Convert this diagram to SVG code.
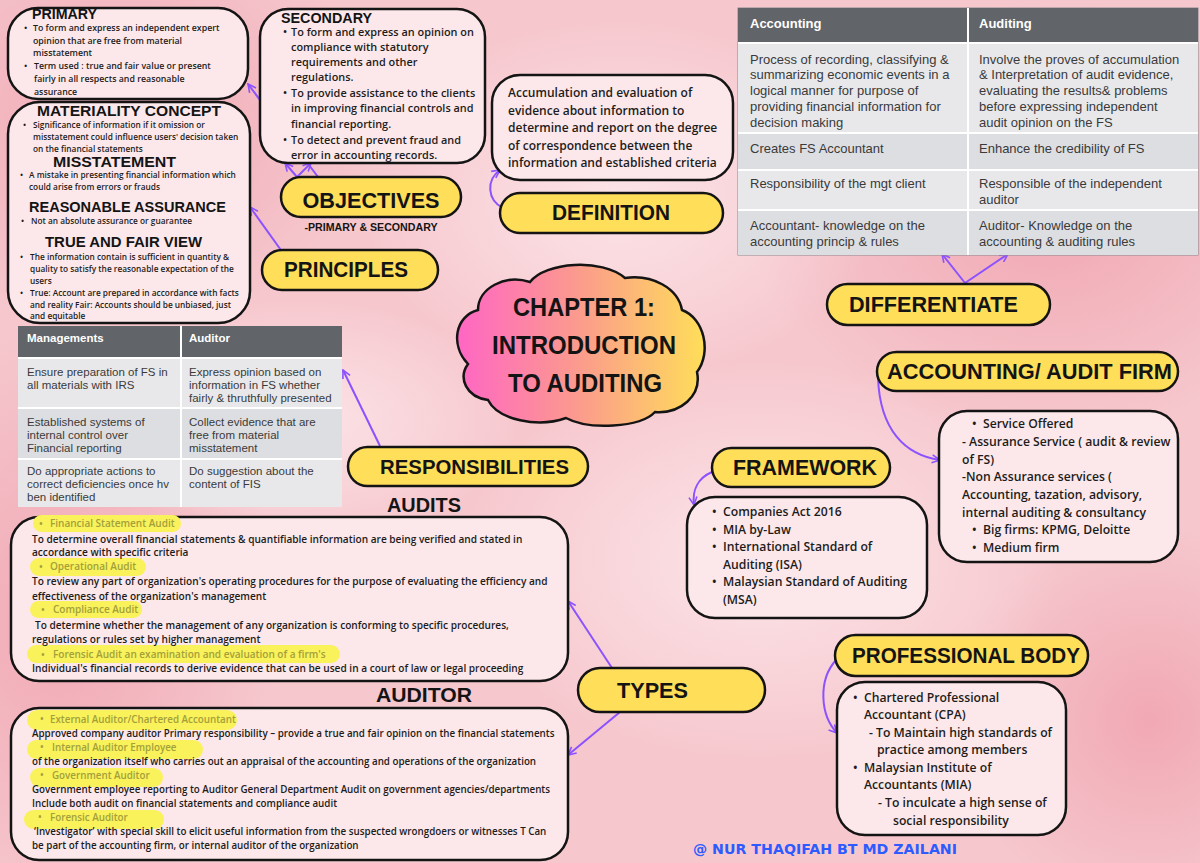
<svg xmlns="http://www.w3.org/2000/svg" width="1200" height="863" viewBox="0 0 1200 863">
<defs>
<style>
.box{fill:#fce8ea;stroke:#141414;stroke-width:2.5}
.pill{fill:#ffde59;stroke:#141414;stroke-width:2.5}
.h{font-family:"Liberation Sans",Arial,sans-serif;font-weight:bold;fill:#141414}
.b{font-family:"Open Sans","Liberation Sans",sans-serif;font-weight:600;fill:#1c1c1c}
.t{font-family:"Liberation Sans",Arial,sans-serif;fill:#3a3a3a}
.th{font-family:"Liberation Sans",Arial,sans-serif;font-weight:bold;fill:#ffffff}
.hl{fill:#f9f25a}
.hlt{fill:#a3a03a}
.con{fill:none;stroke:#8c52ff;stroke-width:2;marker-end:url(#ah)}
.pt{text-anchor:middle}
</style>
<marker id="ah" viewBox="0 0 10 10" refX="9" refY="5" markerWidth="5" markerHeight="5" orient="auto" markerUnits="strokeWidth">
<path d="M1,1 L9,5 L1,9" fill="none" stroke="#8c52ff" stroke-width="1.6"/>
</marker>
<linearGradient id="cloudg" x1="0" y1="0" x2="1" y2="0">
<stop offset="0" stop-color="#ff66c4"/>
<stop offset="0.5" stop-color="#fb9c8c"/>
<stop offset="1" stop-color="#ffde59"/>
</linearGradient>
<radialGradient id="bg1" cx="0.5" cy="0.5" r="0.5">
<stop offset="0" stop-color="#f0a3b0" stop-opacity="0.85"/>
<stop offset="1" stop-color="#f0a3b0" stop-opacity="0"/>
</radialGradient>
<radialGradient id="bg2" cx="0.5" cy="0.5" r="0.5">
<stop offset="0" stop-color="#fde9ec" stop-opacity="0.85"/>
<stop offset="1" stop-color="#fde9ec" stop-opacity="0"/>
</radialGradient>
</defs>

<g id="background">
<rect x="0" y="0" width="1200" height="863" fill="#f6c8ce"/>
<ellipse cx="120" cy="120" rx="260" ry="220" fill="url(#bg1)"/>
<ellipse cx="1050" cy="220" rx="300" ry="220" fill="url(#bg1)"/>
<ellipse cx="60" cy="620" rx="220" ry="300" fill="url(#bg1)"/>
<ellipse cx="1150" cy="720" rx="200" ry="200" fill="url(#bg1)"/>
<ellipse cx="620" cy="200" rx="260" ry="180" fill="url(#bg2)"/>
<ellipse cx="760" cy="560" rx="300" ry="200" fill="url(#bg2)"/>
<ellipse cx="300" cy="420" rx="220" ry="120" fill="url(#bg2)"/>
</g>

<g id="connectors">
<path class="con" d="M318,177 L248,84"/>
<path class="con" d="M283,253 L250,207"/>
<path class="con" d="M297,177 L285,163"/>
<path class="con" d="M297,177 L311,163"/>
<path class="con" d="M503,208 C487,200 486,180 500,170"/>
<path class="con" d="M965,283 L942,254"/>
<path class="con" d="M965,283 L1008,254"/>
<path class="con" d="M380,446 L343,370"/>
<path class="con" d="M878,378 C880,430 905,455 940,460"/>
<path class="con" d="M712,472 C698,478 692,490 694,505"/>
<path class="con" d="M836,660 C818,680 820,715 837,733"/>
<path class="con" d="M612,668 L568,601"/>
<path class="con" d="M620,712 L568,755"/>
</g>

<g id="primary">
<rect class="box" x="8" y="8" width="240" height="91" rx="30"/>
<text class="h" x="32" y="19" font-size="14" textLength="65" lengthAdjust="spacingAndGlyphs">PRIMARY</text>
<g class="b" font-size="8.8">
<text x="24" y="30.5">•</text>
<text x="33" y="30.5">To form and express an independent expert</text>
<text x="33" y="43.5">opinion that are free from material</text>
<text x="33" y="55.5">misstatement</text>
<text x="24" y="68.5">•</text>
<text x="34" y="68.5">Term used : true and fair value or present</text>
<text x="34" y="81.5">fairly in all respects and reasonable</text>
<text x="34" y="94.5">assurance</text>
</g>
</g>

<g id="principles-box">
<rect class="box" x="8" y="102" width="242" height="221" rx="32"/>
<text class="h" x="37" y="115.5" font-size="15" textLength="184" lengthAdjust="spacingAndGlyphs">MATERIALITY  CONCEPT</text>
<text class="h" x="53" y="167" font-size="15" textLength="123" lengthAdjust="spacingAndGlyphs">MISSTATEMENT</text>
<text class="h" x="29" y="212" font-size="15" textLength="197" lengthAdjust="spacingAndGlyphs">REASONABLE ASSURANCE</text>
<text class="h" x="45" y="247" font-size="15" textLength="157" lengthAdjust="spacingAndGlyphs">TRUE AND FAIR VIEW</text>
<g class="b" font-size="8.3">
<text x="23" y="128">•</text>
<text x="33" y="128">Significance of information  if it omission or</text>
<text x="33" y="140">misstatement could influence users' decision taken</text>
<text x="33" y="152">on  the financial statements</text>
<text x="20" y="178">•</text>
<text x="29" y="178">A mistake in presenting financial information which</text>
<text x="29" y="190">could arise from errors or frauds</text>
<text x="21" y="224">•</text>
<text x="31" y="224">Not an absolute assurance or guarantee</text>
<text x="20" y="260">•</text>
<text x="30" y="260">The information contain is sufficient in quantity &amp;</text>
<text x="30" y="272">quality to satisfy the reasonable expectation of the</text>
<text x="30" y="284">users</text>
<text x="20" y="296">•</text>
<text x="30" y="296">True: Account are prepared in accordance with facts</text>
<text x="30" y="308">and reality Fair: Accounts should be unbiased, just</text>
<text x="30" y="319">and equitable</text>
</g>
</g>

<g id="secondary">
<rect class="box" x="260" y="9" width="225" height="154" rx="28"/>
<text class="h" x="281" y="22.5" font-size="14" textLength="91" lengthAdjust="spacingAndGlyphs">SECONDARY</text>
<g class="b" font-size="10.9">
<text x="283" y="35.5">•</text>
<text x="291" y="35.5">To form and express an opinion on</text>
<text x="291" y="50.5">compliance with statutory</text>
<text x="291" y="66">requirements and other</text>
<text x="291" y="81">regulations.</text>
<text x="283" y="97">•</text>
<text x="291" y="97">To provide assistance to the clients</text>
<text x="291" y="112">in improving financial controls and</text>
<text x="291" y="128">financial reporting.</text>
<text x="283" y="144">•</text>
<text x="291" y="144">To detect and prevent fraud and</text>
<text x="291" y="159">error in accounting records.</text>
</g>
</g>

<g id="objectives">
<rect class="pill" x="281" y="177" width="180" height="40" rx="20"/>
<text class="h pt" x="371" y="208" font-size="22" textLength="137" lengthAdjust="spacingAndGlyphs">OBJECTIVES</text>
<text class="h pt" x="371" y="231" font-size="10" textLength="133" lengthAdjust="spacingAndGlyphs">-PRIMARY &amp; SECONDARY</text>
</g>

<g id="principles">
<rect class="pill" x="262" y="250" width="176" height="40" rx="20"/>
<text class="h pt" x="346" y="277" font-size="22" textLength="124" lengthAdjust="spacingAndGlyphs">PRINCIPLES</text>
</g>

<g id="definition-box">
<rect class="box" x="492" y="75" width="241" height="105" rx="28"/>
<g class="b" font-size="12">
<text x="508" y="97">Accumulation and evaluation of</text>
<text x="508" y="115">evidence about information to</text>
<text x="508" y="132">determine and report on the degree</text>
<text x="508" y="150">of correspondence between the</text>
<text x="508" y="167">information and established criteria</text>
</g>
</g>

<g id="definition">
<rect class="pill" x="500" y="193" width="223" height="40" rx="20"/>
<text class="h pt" x="611" y="220" font-size="22" textLength="118" lengthAdjust="spacingAndGlyphs">DEFINITION</text>
</g>

<g id="diff-table">
<rect x="738" y="8" width="460" height="247" fill="#e3e4e8" stroke="#8a8a8e" stroke-width="1"/>
<rect x="738" y="8" width="460" height="35" fill="#616469"/>
<rect x="738" y="43" width="460" height="90" fill="#e8e8eb"/>
<rect x="738" y="133" width="460" height="37" fill="#dddee2"/>
<rect x="738" y="170" width="460" height="40" fill="#e8e8eb"/>
<rect x="738" y="210" width="460" height="45" fill="#dddee2"/>
<g stroke="#ffffff" stroke-width="2">
<line x1="968" y1="8" x2="968" y2="255"/>
<line x1="738" y1="43" x2="1198" y2="43"/>
<line x1="738" y1="133" x2="1198" y2="133"/>
<line x1="738" y1="170" x2="1198" y2="170"/>
<line x1="738" y1="210" x2="1198" y2="210"/>
</g>
<text class="th" x="750" y="28" font-size="13">Accounting</text>
<text class="th" x="979" y="28" font-size="13">Auditing</text>
<g class="t" font-size="13">
<text x="750" y="63.5">Process of recording, classifying &amp;</text>
<text x="750" y="79">summarizing economic events in a</text>
<text x="750" y="95">logical manner for purpose of</text>
<text x="750" y="111">providing financial information for</text>
<text x="750" y="126.5">decision making</text>
<text x="979" y="63.5">Involve the proves of accumulation</text>
<text x="979" y="79">&amp; Interpretation of audit evidence,</text>
<text x="979" y="95">evaluating the results&amp; problems</text>
<text x="979" y="111">before expressing independent</text>
<text x="979" y="126.5">audit opinion on the FS</text>
<text x="750" y="152.5">Creates FS Accountant</text>
<text x="979" y="152.5">Enhance the credibility of FS</text>
<text x="750" y="187.5">Responsibility of the mgt client</text>
<text x="979" y="187.5">Responsible of the independent</text>
<text x="979" y="203.5">auditor</text>
<text x="750" y="229.5">Accountant- knowledge on the</text>
<text x="750" y="245.5">accounting princip &amp; rules</text>
<text x="979" y="229.5">Auditor- Knowledge on the</text>
<text x="979" y="245.5">accounting &amp; auditing rules</text>
</g>
</g>

<g id="differentiate">
<rect class="pill" x="827" y="284" width="223" height="41" rx="20.5"/>
<text class="h pt" x="933.5" y="312" font-size="22" textLength="169" lengthAdjust="spacingAndGlyphs">DIFFERENTIATE</text>
</g>

<g id="chapter">
<path d="M468,364 C450,345 455,316 478,310 C478,288 505,274 530,282 C545,262 602,258 625,278 C652,274 678,288 682,310 C704,318 712,352 697,372 C702,396 680,414 655,412 C640,428 588,430 566,418 C538,428 498,420 488,400 C466,397 458,378 468,364 Z" fill="url(#cloudg)" stroke="#141414" stroke-width="2.5"/>
<text class="h pt" x="584" y="316" font-size="26" textLength="142" lengthAdjust="spacingAndGlyphs">CHAPTER 1:</text>
<text class="h pt" x="584" y="354" font-size="26" textLength="184" lengthAdjust="spacingAndGlyphs">INTRODUCTION</text>
<text class="h pt" x="585" y="392" font-size="26" textLength="154" lengthAdjust="spacingAndGlyphs">TO AUDITING</text>
</g>

<g id="resp-table">
<rect x="18" y="326" width="324" height="181" fill="#e3e4e8"/>
<rect x="18" y="326" width="324" height="32" fill="#616469"/>
<rect x="18" y="358" width="324" height="50" fill="#e8e8eb"/>
<rect x="18" y="408" width="324" height="51" fill="#dddee2"/>
<rect x="18" y="459" width="324" height="48" fill="#e8e8eb"/>
<g stroke="#ffffff" stroke-width="2">
<line x1="181" y1="326" x2="181" y2="507"/>
<line x1="18" y1="358" x2="342" y2="358"/>
<line x1="18" y1="408" x2="342" y2="408"/>
<line x1="18" y1="459" x2="342" y2="459"/>
</g>
<text class="th" x="27" y="342" font-size="11.5">Managements</text>
<text class="th" x="189" y="342" font-size="11.5">Auditor</text>
<g class="t" font-size="11.5">
<text x="27" y="376">Ensure preparation of FS in</text>
<text x="27" y="389">all materials with IRS</text>
<text x="189" y="376">Express opinion based on</text>
<text x="189" y="389">information in FS whether</text>
<text x="189" y="402">fairly &amp; thruthfully presented</text>
<text x="27" y="426">Established systems of</text>
<text x="27" y="439">internal control over</text>
<text x="27" y="452">Financial reporting</text>
<text x="189" y="426">Collect evidence that are</text>
<text x="189" y="439">free from material</text>
<text x="189" y="452">misstatement</text>
<text x="27" y="475">Do appropriate actions to</text>
<text x="27" y="488">correct deficiencies once hv</text>
<text x="27" y="501">ben identified</text>
<text x="189" y="475">Do suggestion about the</text>
<text x="189" y="488">content of FIS</text>
</g>
</g>

<g id="responsibilities">
<rect class="pill" x="348" y="447" width="240" height="39" rx="19.5"/>
<text class="h pt" x="474.5" y="474" font-size="21" textLength="189" lengthAdjust="spacingAndGlyphs">RESPONSIBILITIES</text>
</g>

<g id="audits">
<text class="h pt" x="424" y="512" font-size="20" textLength="74" lengthAdjust="spacingAndGlyphs">AUDITS</text>
<rect class="box" x="11" y="517" width="557" height="164" rx="28"/>
<rect class="hl" x="33" y="515" width="148" height="17" rx="8.5"/>
<rect class="hl" x="30" y="558" width="116" height="18" rx="9"/>
<rect class="hl" x="30" y="601" width="112" height="17" rx="8.5"/>
<rect class="hl" x="27" y="645" width="313" height="18" rx="9"/>
<g class="b hlt" font-size="10">
<text x="39" y="526.5">•</text>
<text x="50" y="526.5">Financial Statement Audit</text>
<text x="39" y="570">•</text>
<text x="50" y="570">Operational Audit</text>
<text x="41" y="613">•</text>
<text x="53" y="613">Compliance Audit</text>
<text x="41" y="657.5">•</text>
<text x="53" y="657.5">Forensic Audit an examination and evaluation of a firm's</text>
</g>
<g class="b" font-size="10.1">
<text x="32" y="542.5">To determine overall financial statements &amp; quantifiable information are being verified and stated in</text>
<text x="32" y="556">accordance with specific criteria</text>
<text x="32" y="585">To review any part of organization's operating procedures for the purpose of evaluating the efficiency and</text>
<text x="32" y="599.5">effectiveness of the organization's management</text>
<text x="35" y="629">To determine whether the management of any organization is conforming to specific procedures,</text>
<text x="32" y="643">regulations or rules set by higher management</text>
<text x="32" y="672">Individual's financial records to derive evidence that can be used in a court of law or legal proceeding</text>
</g>
</g>

<g id="auditor">
<text class="h pt" x="424" y="702" font-size="21" textLength="96" lengthAdjust="spacingAndGlyphs">AUDITOR</text>
<rect class="box" x="11" y="708" width="557" height="152" rx="28"/>
<rect class="hl" x="27" y="710" width="210" height="20" rx="10"/>
<rect class="hl" x="27" y="740" width="176" height="19" rx="9.5"/>
<rect class="hl" x="30" y="768" width="133" height="19" rx="9.5"/>
<rect class="hl" x="24" y="810" width="140" height="19" rx="9.5"/>
<g class="b hlt" font-size="9.8">
<text x="40" y="723">•</text>
<text x="50" y="723">External Auditor/Chartered Accountant</text>
<text x="40" y="751">•</text>
<text x="52" y="751">Internal Auditor Employee</text>
<text x="40" y="779">•</text>
<text x="52" y="779">Government Auditor</text>
<text x="38" y="821">•</text>
<text x="50" y="821">Forensic Auditor</text>
</g>
<g class="b" font-size="9.8">
<text x="32" y="737">Approved company auditor Primary responsibility – provide a true and fair opinion on the financial statements</text>
<text x="32" y="765">of the organization itself who carries out an appraisal of the accounting and operations of the organization</text>
<text x="32" y="793">Government employee reporting to Auditor General Department Audit on government agencies/departments</text>
<text x="32" y="807">Include both audit on financial statements and compliance audit</text>
<text x="34" y="835">‘Investigator’ with special skill to elicit useful information from the suspected wrongdoers or witnesses T Can</text>
<text x="32" y="849">be part of the accounting firm, or internal auditor of the organization</text>
</g>
</g>

<g id="types">
<rect class="pill" x="578" y="668" width="187" height="44" rx="22"/>
<text class="h pt" x="652.5" y="698" font-size="22" textLength="71" lengthAdjust="spacingAndGlyphs">TYPES</text>
</g>

<g id="audit-firm">
<rect class="pill" x="877" y="352" width="301" height="39" rx="19.5"/>
<text class="h pt" x="1029.5" y="379" font-size="22" textLength="285" lengthAdjust="spacingAndGlyphs">ACCOUNTING/ AUDIT FIRM</text>
</g>

<g id="audit-firm-box">
<rect class="box" x="939" y="411" width="239" height="151" rx="28"/>
<g class="b" font-size="12.2">
<text x="972" y="428">•</text>
<text x="983" y="428">Service Offered</text>
<text x="962" y="446">- Assurance Service ( audit &amp; review</text>
<text x="962" y="464">of FS)</text>
<text x="962" y="481">-Non Assurance services (</text>
<text x="962" y="499">Accounting, tazation, advisory,</text>
<text x="962" y="517">internal auditing &amp; consultancy</text>
<text x="972" y="534">•</text>
<text x="983" y="534">Big firms: KPMG, Deloitte</text>
<text x="972" y="552">•</text>
<text x="983" y="552">Medium firm</text>
</g>
</g>

<g id="framework">
<rect class="pill" x="712" y="448" width="178" height="39" rx="19.5"/>
<text class="h pt" x="805" y="475" font-size="22" textLength="144" lengthAdjust="spacingAndGlyphs">FRAMEWORK</text>
</g>

<g id="framework-box">
<rect class="box" x="687" y="497" width="240" height="121" rx="28"/>
<g class="b" font-size="12.2">
<text x="712" y="516">•</text>
<text x="723" y="516">Companies Act 2016</text>
<text x="712" y="534">•</text>
<text x="723" y="534">MIA by-Law</text>
<text x="712" y="551">•</text>
<text x="723" y="551">International Standard of</text>
<text x="723" y="569">Auditing (ISA)</text>
<text x="712" y="586">•</text>
<text x="723" y="586">Malaysian Standard of Auditing</text>
<text x="723" y="604">(MSA)</text>
</g>
</g>

<g id="professional-body">
<rect class="pill" x="835" y="635" width="253" height="41" rx="20.5"/>
<text class="h pt" x="966" y="663" font-size="22" textLength="228" lengthAdjust="spacingAndGlyphs">PROFESSIONAL BODY</text>
</g>

<g id="professional-box">
<rect class="box" x="837" y="682" width="229" height="153" rx="28"/>
<g class="b" font-size="12.2">
<text x="853" y="702">•</text>
<text x="864" y="702">Chartered Professional</text>
<text x="864" y="719">Accountant (CPA)</text>
<text x="869" y="737">- To Maintain high standards of</text>
<text x="877" y="754">practice among members</text>
<text x="853" y="772">•</text>
<text x="864" y="772">Malaysian Institute of</text>
<text x="864" y="789">Accountants (MIA)</text>
<text x="878" y="807">- To inculcate a high sense of</text>
<text x="893" y="825">social responsibility</text>
</g>
</g>

<g id="signature">
<text x="693" y="854" font-family="'DejaVu Sans',sans-serif" font-weight="bold" font-size="14" fill="#2e5bff" textLength="264" lengthAdjust="spacingAndGlyphs">@ NUR THAQIFAH BT MD ZAILANI</text>
</g>
</svg>
